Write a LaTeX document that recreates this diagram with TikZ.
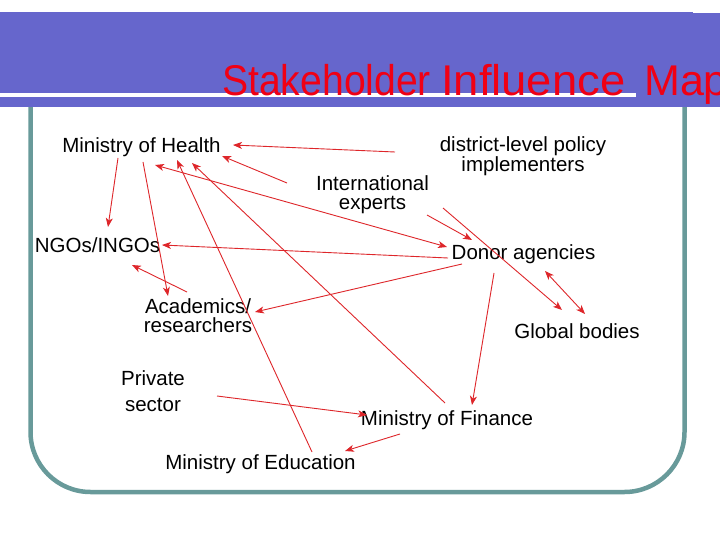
\documentclass[tikz,border=0pt]{standalone}
\usepackage{fontspec}
\usepackage{graphicx}
\setmainfont{Liberation Sans}
\usetikzlibrary{arrows.meta}
\definecolor{bandblue}{RGB}{102,102,204}
\definecolor{frameteal}{RGB}{104,154,154}
\definecolor{arrowred}{RGB}{222,38,42}
\definecolor{titlered}{RGB}{240,0,20}
\tikzset{
  actor/.style={inner sep=0pt, align=center, font=\fontsize{20.5}{19}\selectfont},
  link/.style={draw=arrowred, line width=0.9pt, -{Stealth[length=9pt,width=7pt,inset=2.5pt]}},
  biglink/.style={draw=arrowred, line width=0.9pt, {Stealth[length=9pt,width=7pt,inset=2.5pt]}-{Stealth[length=9pt,width=7pt,inset=2.5pt]}}
}
\begin{document}
\begin{tikzpicture}[x=1pt,y=-1pt]
\useasboundingbox (0,0) rectangle (720,540);
\fill[white] (0,0) rectangle (720,540);
% frame
\draw[frameteal, line width=4.5pt, rounded corners=60pt] (30.5,100) -- (30.5,492) -- (684.5,492) -- (684.5,100);
% title band
\fill[bandblue] (0,12) rectangle (693,107);
\fill[bandblue] (693,13.5) rectangle (720,107);
\fill[white] (0,93.5) rectangle (636,97.5);
\node[anchor=base west, inner sep=0pt, text=titlered, font=\fontsize{43}{43}\selectfont] (title) at (222,95.7)
  {\scalebox{0.91}[1]{Stakeholder}\hspace{-1.8pt} \scalebox{1.055}[1]{Influence}\hspace{7pt} Map};
% nodes
\node[actor] (moh) at (141.5,147) {Ministry of Health};
\node[actor] (dist) at (523,156) {district-level policy\\implementers};
\node[actor] (intl) at (372.5,195) {International\\experts};
\node[actor] (ngo) at (97.5,245) {NGOs/INGOs};
\node[actor] (donor) at (523.5,254) {Donor agencies};
\node[actor] (acad) at (198,316) {Academics/\\researchers};
\node[actor] (glob) at (577,331) {Global bodies};
\node[actor, font=\fontsize{20.5}{26}\selectfont] (priv) at (153,391) {Private\\sector};
\node[actor] (mof) at (447,420) {Ministry of Finance};
\node[actor] (moe) at (260.5,464) {Ministry of Education};
% connectors
\draw[link] ([shift={(-128,-4)}]dist.center) -- ([shift={(91.5,-2)}]moh.center);
\draw[link] ([shift={(-85.5,-12)}]intl.center) -- ([shift={(80.5,9)}]moh.center);
\draw[biglink] ([shift={(13.5,18)}]moh.center) -- ([shift={(-76.5,-7)}]donor.center);
\draw[link] ([shift={(51.5,-12)}]moe.center) -- ([shift={(35.5,13)}]moh.center);
\draw[link] ([shift={(-2,-17)}]mof.center) -- ([shift={(50.5,16)}]moh.center);
\draw[link] ([shift={(-23.5,11)}]moh.center) -- ([shift={(10.5,-18)}]ngo.center);
\draw[link] ([shift={(1.5,15)}]moh.center) -- ([shift={(-30,-20)}]acad.center);
\draw[link] ([shift={(-75.5,4)}]donor.center) -- ([shift={(64.5,0)}]ngo.center);
\draw[link] ([shift={(-11,-24)}]acad.center) -- ([shift={(34.5,20)}]ngo.center);
\draw[link] ([shift={(54.5,20)}]intl.center) -- ([shift={(-51.5,-14)}]donor.center);
\draw[link] ([shift={(70.5,13)}]intl.center) -- ([shift={(-15,-21)}]glob.center);
\draw[biglink] ([shift={(21.5,17)}]donor.center) -- ([shift={(8,-17)}]glob.center);
\draw[link] ([shift={(-29.5,19)}]donor.center) -- ([shift={(25,-15)}]mof.center);
\draw[link] ([shift={(-61.5,10)}]donor.center) -- ([shift={(57,-4)}]acad.center);
\draw[link] ([shift={(64,5)}]priv.center) -- ([shift={(-80,-5)}]mof.center);
\draw[link] ([shift={(-47,14)}]mof.center) -- ([shift={(84.5,-13)}]moe.center);
\end{tikzpicture}
\end{document}
